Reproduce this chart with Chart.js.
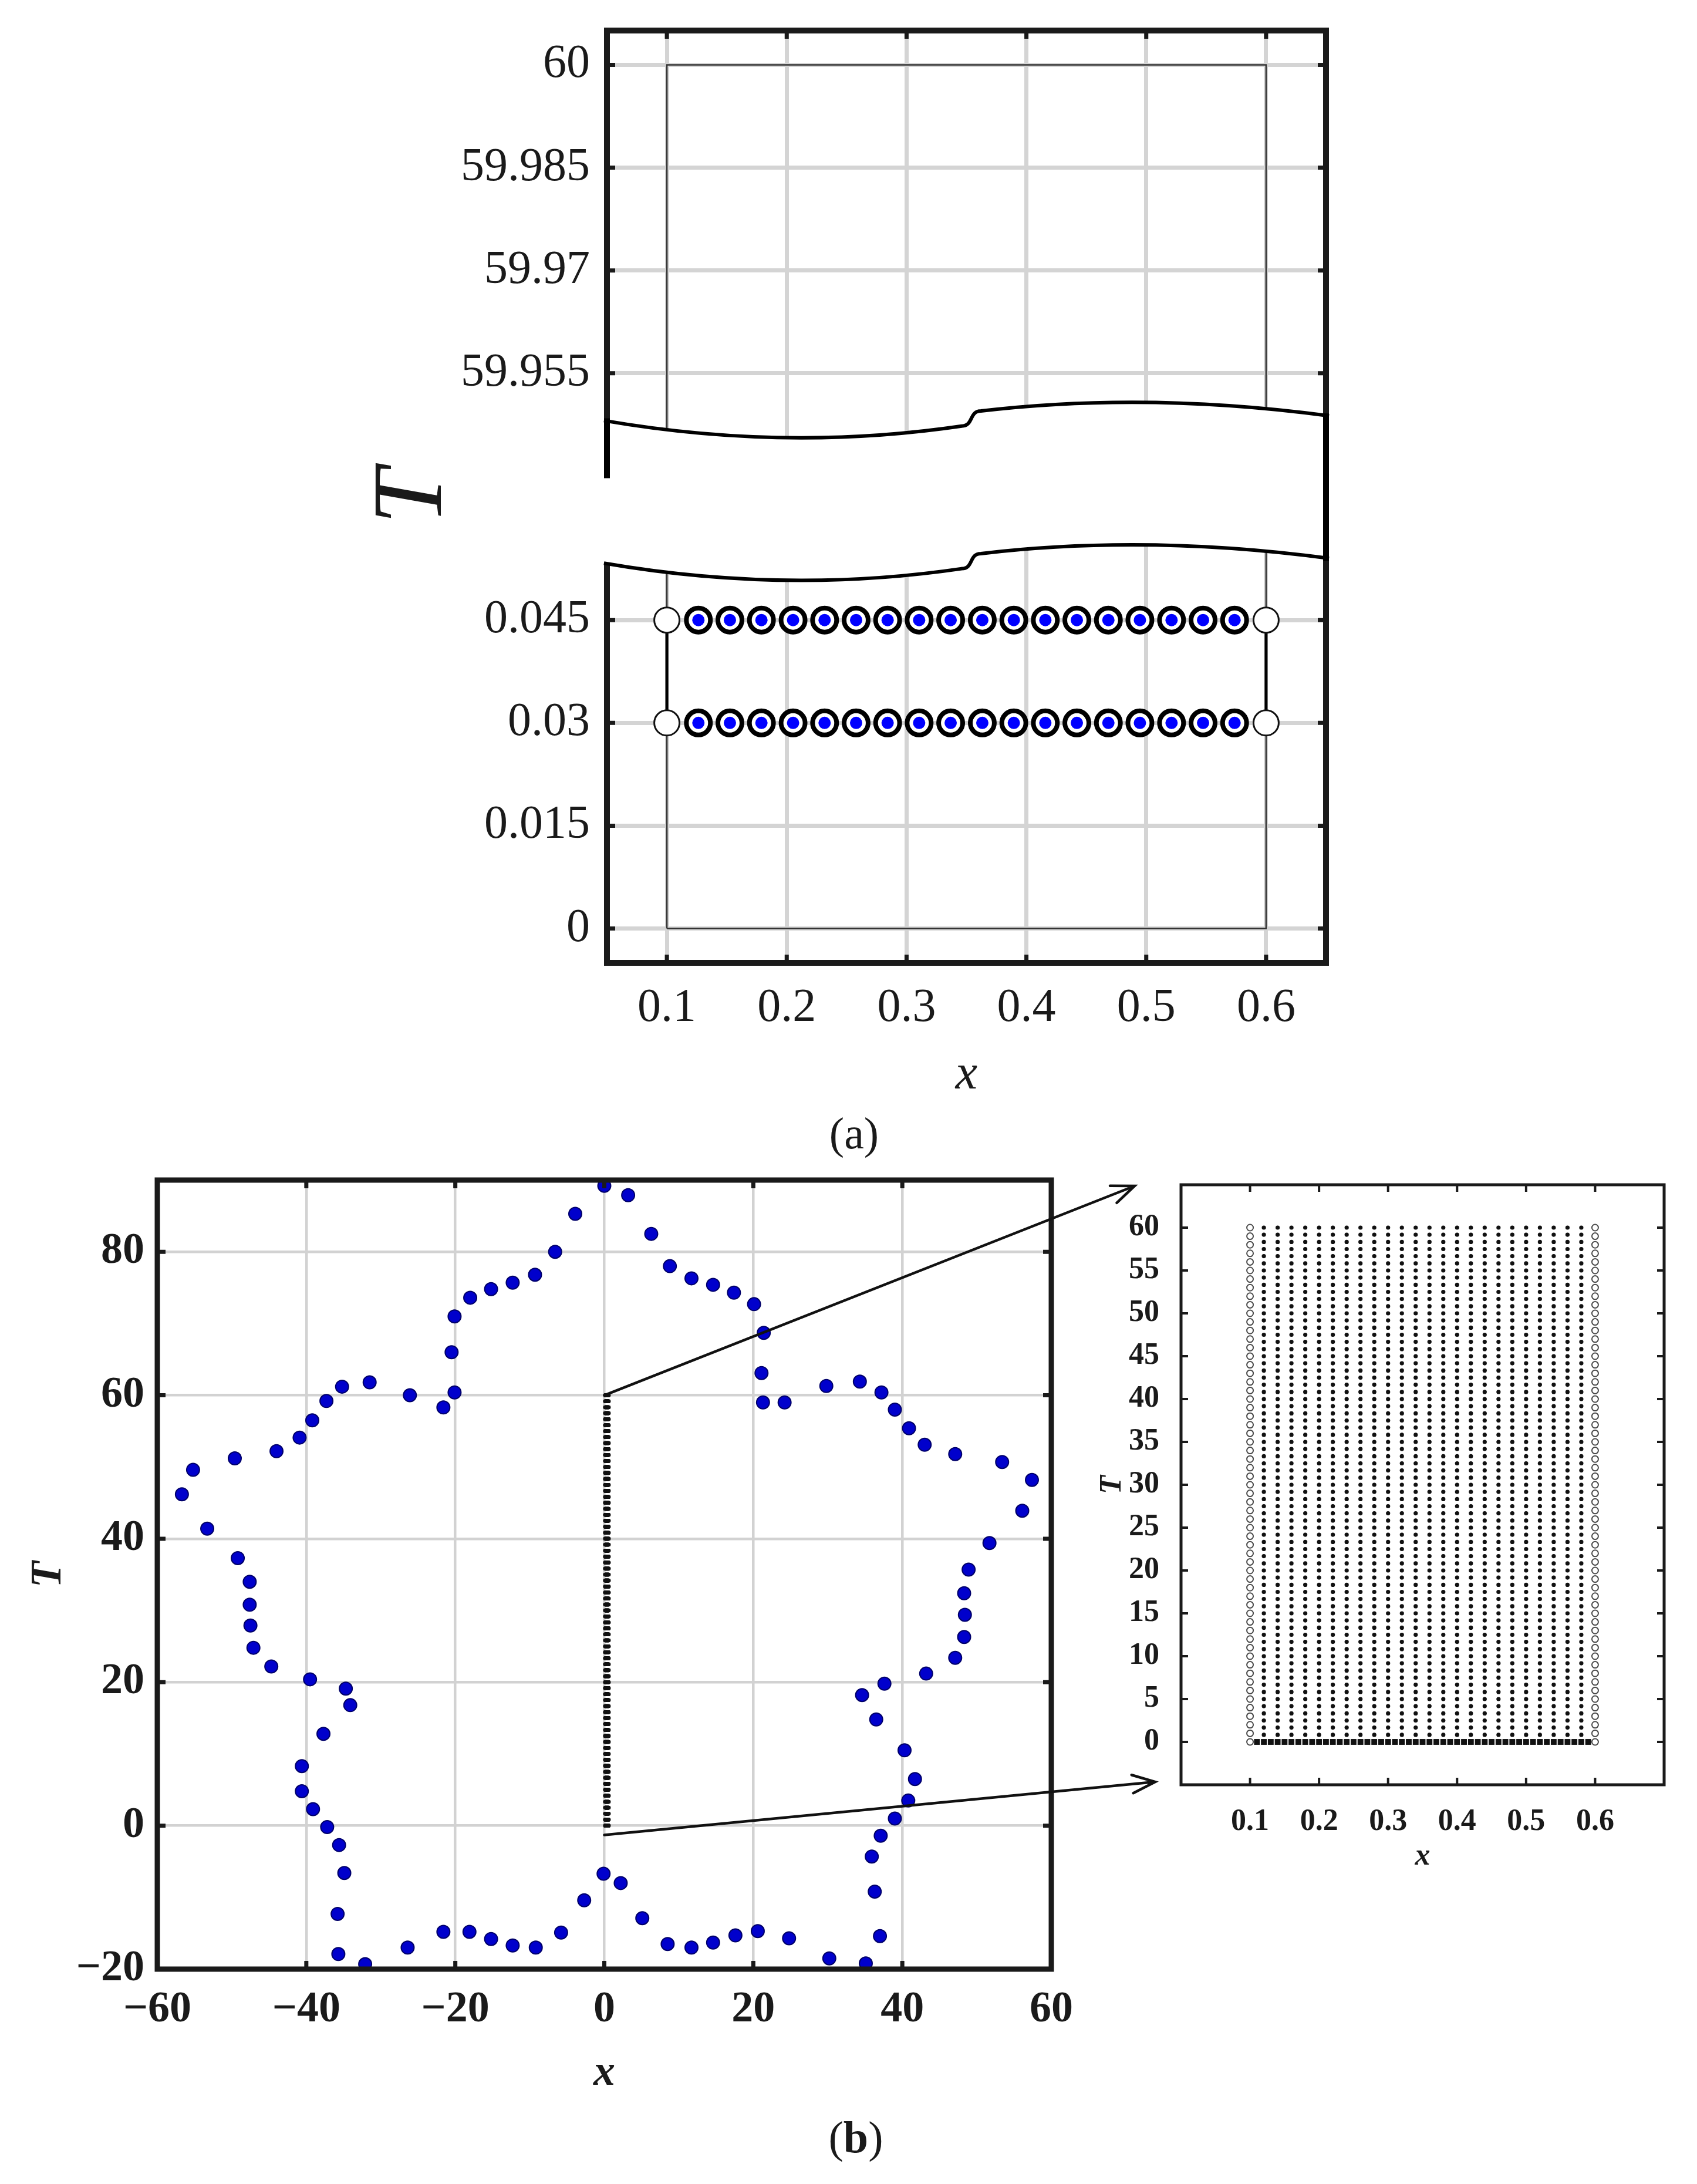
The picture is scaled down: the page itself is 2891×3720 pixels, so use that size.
<!DOCTYPE html>
<html>
<head>
<meta charset="utf-8">
<script src="https://cdn.jsdelivr.net/npm/chart.js@4.4.1/dist/chart.umd.min.js"></script>
<style>
  html, body { margin: 0; padding: 0; background: #fff; }
  body { width: 2891px; height: 3720px; position: relative; overflow: hidden; font-family: "Liberation Serif", serif; color: #1a1a1a; }
  canvas { position: absolute; }
  .cap { position: absolute; font-size: 76px; transform: translate(-50%, -50%); white-space: nowrap; }
</style>
</head>
<body>
<canvas id="chartA" width="1750" height="1882" style="left:600px;top:0px"></canvas>
<canvas id="chartB" width="1880" height="1630" style="left:0px;top:1960px"></canvas>
<canvas id="chartC" width="1031" height="1260" style="left:1860px;top:1960px"></canvas>
<canvas id="arrows" width="2891" height="3720" style="left:0px;top:0px;pointer-events:none"></canvas>
<div class="cap" style="left:1455px;top:1930px">(a)</div>
<div class="cap" style="left:1458px;top:3640px">(<b>b</b>)</div>
<script>
// ---------- panel (a): broken T axis ----------
const aTickX = [0.1, 0.2, 0.3, 0.4, 0.5, 0.6];
const aTickLow = [0, 0.015, 0.03, 0.045];
const aTickHigh = [59.955, 59.97, 59.985, 60];
const aInnerX = [0.1263, 0.1526, 0.1789, 0.2053, 0.2316, 0.2579, 0.2842, 0.3105, 0.3368,
  0.3632, 0.3895, 0.4158, 0.4421, 0.4684, 0.4947, 0.5211, 0.5474, 0.5737];
const aEdgeX = [0.1, 0.6];
const aRowT = [0.03, 0.045];
const aBoxX = [0.1, 0.6];
const aBoxT = [0, 60];

// ---------- panel (b): boundary points and mesh ----------
const starX = [0, 3.2, -3.9, -6.6, -9.3, -12.3, -15.2, -18.0, -20.1, -20.5,
  -20.1, -21.6, -26.1, -31.5, -35.2, -37.3, -39.2, -40.9, -44.0, -49.6,
  -55.2, -56.7, -53.3, -49.2, -47.6, -47.6, -47.5, -47.1, -44.7, -39.5,
  -34.7, -34.1, -37.7, -40.6, -40.6, -39.1, -37.2, -35.6, -34.9, -35.8,
  -35.7, -32.1, -26.4, -21.6, -18.1, -15.2, -12.3, -9.2, -5.8, -2.7,
  -0.1, 2.2, 5.1, 8.5, 11.7, 14.6, 17.6, 20.6, 24.8, 30.2,
  35.1, 37.0, 36.3, 35.9, 37.1, 39.0, 40.8, 41.7, 40.3, 36.5,
  34.6, 37.6, 43.2, 47.1, 48.3, 48.4, 48.3, 48.9, 51.7, 56.1,
  57.4, 53.4, 47.1, 43.0, 40.9, 39.0, 37.2, 34.3, 29.8, 24.2,
  21.3, 21.1, 21.4, 20.1, 17.4, 14.6, 11.7, 8.8, 6.3];
const starT = [89.2, 87.9, 85.3, 80.0, 76.8, 75.7, 74.8, 73.6, 71.0, 66.0,
  60.4, 58.3, 60.0, 61.8, 61.2, 59.2, 56.5, 54.1, 52.2, 51.2,
  49.6, 46.2, 41.4, 37.3, 34.0, 30.8, 27.9, 24.8, 22.2, 20.4,
  19.1, 16.8, 12.8, 8.3, 4.8, 2.3, -0.2, -2.7, -6.6, -12.3,
  -17.9, -19.3, -17.0, -14.8, -14.8, -15.8, -16.7, -17.0, -14.9, -10.4,
  -6.7, -8.0, -12.9, -16.5, -17.0, -16.3, -15.3, -14.7, -15.7, -18.5,
  -19.2, -15.4, -9.2, -4.3, -1.4, 1.0, 3.5, 6.5, 10.5, 14.8,
  18.2, 19.8, 21.2, 23.4, 26.3, 29.4, 32.4, 35.7, 39.4, 43.9,
  48.2, 50.7, 51.8, 53.1, 55.4, 58.0, 60.4, 61.9, 61.3, 59.0,
  59.0, 63.1, 68.7, 72.7, 74.3, 75.4, 76.3, 78.0, 82.5];
const bTickX = [-60, -40, -20, 0, 20, 40, 60];
const bTickT = [-20, 0, 20, 40, 60, 80];

const meshX = [0.12, 0.14, 0.16, 0.18, 0.2, 0.22, 0.24, 0.26, 0.28, 0.3, 0.32, 0.34,
  0.36, 0.38, 0.4, 0.42, 0.44, 0.46, 0.48, 0.5, 0.52, 0.54, 0.56, 0.58];
const meshT = [0, 0.83, 1.67, 2.5, 3.33, 4.17, 5, 5.83, 6.67, 7.5, 8.33, 9.17,
  10, 10.83, 11.67, 12.5, 13.33, 14.17, 15, 15.83, 16.67, 17.5, 18.33, 19.17,
  20, 20.83, 21.67, 22.5, 23.33, 24.17, 25, 25.83, 26.67, 27.5, 28.33, 29.17,
  30, 30.83, 31.67, 32.5, 33.33, 34.17, 35, 35.83, 36.67, 37.5, 38.33, 39.17,
  40, 40.83, 41.67, 42.5, 43.33, 44.17, 45, 45.83, 46.67, 47.5, 48.33, 49.17,
  50, 50.83, 51.67, 52.5, 53.33, 54.17, 55, 55.83, 56.67, 57.5, 58.33, 59.17, 60];
const edgeX = [0.1, 0.6];
const edgeT = [0, 1, 2, 3, 4, 5, 6, 7, 8, 9, 10, 11, 12, 13, 14, 15, 16, 17, 18, 19, 20,
  21, 22, 23, 24, 25, 26, 27, 28, 29, 30, 31, 32, 33, 34, 35, 36, 37, 38, 39, 40,
  41, 42, 43, 44, 45, 46, 47, 48, 49, 50, 51, 52, 53, 54, 55, 56, 57, 58, 59, 60];
const baseX = [0.11, 0.12, 0.13, 0.14, 0.15, 0.16, 0.17, 0.18, 0.19, 0.2, 0.21, 0.22,
  0.23, 0.24, 0.25, 0.26, 0.27, 0.28, 0.29, 0.3, 0.31, 0.32, 0.33, 0.34, 0.35, 0.36,
  0.37, 0.38, 0.39, 0.4, 0.41, 0.42, 0.43, 0.44, 0.45, 0.46, 0.47, 0.48, 0.49, 0.5,
  0.51, 0.52, 0.53, 0.54, 0.55, 0.56, 0.57, 0.58, 0.59];
const cTickX = [0.1, 0.2, 0.3, 0.4, 0.5, 0.6];
const cTickT = [0, 5, 10, 15, 20, 25, 30, 35, 40, 45, 50, 55, 60];

const SERIF = '"Liberation Serif", "Times New Roman", serif';
const INK = '#1a1a1a';

// broken axis: the upper block (59.955..60) sits above the lower one with a gap
const BREAK_GAP = 0.036;
function brk(t) {
  return t < 30 ? t : t - aTickHigh[0] + aTickLow[aTickLow.length - 1] + BREAK_GAP;
}

function grid(xs, ts, fy) {
  const pts = [];
  xs.forEach(x => ts.forEach(t => pts.push({ x: x, y: fy ? fy(t) : t })));
  return pts;
}
function pairs(xs, ts) {
  return xs.map((x, i) => ({ x: x, y: ts[i] }));
}
function fixedTicks(values) {
  return scale => { scale.ticks = values.map(v => ({ value: v })); };
}
// fixed axis box size, no extra room for overhanging labels
function fitTo(prop, size) {
  return s => {
    s[prop] = size;
    s.paddingTop = 0; s.paddingBottom = 0; s.paddingLeft = 0; s.paddingRight = 0;
  };
}
function minus(v) {
  return v < 0 ? '\u2212' + Math.abs(v) : String(v);
}

// frame box + inward tick marks, drawn over the data
function framePlugin(o) {
  return {
    id: 'frameBox',
    afterDatasetsDraw(chart) {
      const { ctx, chartArea: a, scales } = chart;
      ctx.save();
      ctx.strokeStyle = INK;
      ctx.lineWidth = o.tickW;
      ctx.beginPath();
      scales.x.ticks.forEach(t => {
        const px = scales.x.getPixelForValue(t.value);
        ctx.moveTo(px, a.bottom); ctx.lineTo(px, a.bottom - o.tickL);
        ctx.moveTo(px, a.top); ctx.lineTo(px, a.top + o.tickL);
      });
      scales.y.ticks.forEach(t => {
        const py = scales.y.getPixelForValue(t.value);
        ctx.moveTo(a.left, py); ctx.lineTo(a.left + o.tickL, py);
        ctx.moveTo(a.right, py); ctx.lineTo(a.right - o.tickL, py);
      });
      ctx.stroke();
      ctx.lineWidth = o.frameW;
      ctx.strokeRect(a.left, a.top, a.right - a.left, a.bottom - a.top);
      ctx.restore();
      if (o.after) o.after(chart);
    }
  };
}

// white wavy band hiding the jump of the T axis
function drawBreak(chart) {
  const { ctx, chartArea: a, scales: { x, y } } = chart;
  const X = v => x.getPixelForValue(v);
  const Y = v => y.getPixelForValue(v);
  const drop = 0.0208;
  const start = [0.0475, 0.0741];
  const segs = [
    [[0.15, 0.0710], [0.2487, 0.0708], [0.346, 0.0733]],
    [[0.356, 0.0733], [0.352, 0.0755], [0.362, 0.0755]],
    [[0.454, 0.0774], [0.55, 0.0772], [0.6525, 0.0748]]
  ];
  const fwd = d => {
    ctx.moveTo(X(start[0]), Y(start[1] - d));
    segs.forEach(s => ctx.bezierCurveTo(X(s[0][0]), Y(s[0][1] - d), X(s[1][0]), Y(s[1][1] - d), X(s[2][0]), Y(s[2][1] - d)));
  };
  const back = d => {
    const last = segs[segs.length - 1][2];
    ctx.lineTo(X(last[0]), Y(last[1] - d));
    for (let i = segs.length - 1; i >= 0; i--) {
      const s = segs[i];
      const to = i > 0 ? segs[i - 1][2] : start;
      ctx.bezierCurveTo(X(s[1][0]), Y(s[1][1] - d), X(s[0][0]), Y(s[0][1] - d), X(to[0]), Y(to[1] - d));
    }
  };
  ctx.save();
  ctx.fillStyle = '#fff';
  ctx.beginPath();
  fwd(0);
  back(drop);
  ctx.closePath();
  ctx.fill();
  ctx.strokeStyle = '#000';
  ctx.lineWidth = 6;
  ctx.beginPath(); fwd(0); ctx.stroke();
  ctx.beginPath(); fwd(drop); ctx.stroke();
  ctx.lineWidth = 10;
  ctx.beginPath();
  ctx.moveTo(a.right, Y(0.0748) - 4); ctx.lineTo(a.right, Y(0.0748 - drop) + 4);
  ctx.moveTo(a.left, Y(0.0741) - 4); ctx.lineTo(a.left, Y(0.0657));
  ctx.stroke();
  ctx.restore();
}

const base = {
  responsive: false,
  animation: false,
  devicePixelRatio: 1,
  events: [],
  plugins: { legend: { display: false }, tooltip: { enabled: false } }
};

// ---------- chart (a) ----------
const aAllT = aTickLow.concat(aTickHigh);
const boxPts = [
  { x: aBoxX[0], y: brk(aBoxT[0]) }, { x: aBoxX[1], y: brk(aBoxT[0]) },
  { x: aBoxX[1], y: brk(aBoxT[1]) }, { x: aBoxX[0], y: brk(aBoxT[1]) },
  { x: aBoxX[0], y: brk(aBoxT[0]) }
];
const chartA = new Chart(document.getElementById('chartA'), {
  type: 'scatter',
  data: {
    datasets: [
      { data: grid(aEdgeX, aRowT, brk), order: 1, pointRadius: 21.5, backgroundColor: '#fff', borderColor: '#111', borderWidth: 3 },
      { data: grid(aInnerX, aRowT, brk), order: 2, pointRadius: 10.5, backgroundColor: '#0000ff', borderColor: '#0000ff', borderWidth: 0 },
      { data: grid(aInnerX, aRowT, brk), order: 3, pointRadius: 20.5, backgroundColor: '#fff', borderColor: '#000', borderWidth: 8 },
      ...aEdgeX.map(x => ({ data: aRowT.map(t => ({ x: x, y: brk(t) })), order: 4, showLine: true, pointRadius: 0, borderColor: '#000', borderWidth: 5 })),
      { data: boxPts, order: 5, showLine: true, pointRadius: 0, borderColor: '#333', borderWidth: 2.5 }
    ]
  },
  options: Object.assign({}, base, {
    layout: { padding: { left: 0, top: 52, right: 91, bottom: 0 } },
    scales: {
      x: {
        type: 'linear', min: 0.05, max: 0.65,
        afterBuildTicks: fixedTicks(aTickX),
        afterFit: fitTo('height', 242),
        grid: { color: '#d4d4d4', lineWidth: 7, drawTicks: false },
        border: { display: false },
        ticks: { padding: 30, color: INK, font: { family: SERIF, size: 80 }, callback: v => String(v) },
        title: { display: true, text: 'x', color: INK, padding: { top: 0, bottom: 0 }, font: { family: SERIF, size: 84, style: 'italic' } }
      },
      y: {
        type: 'linear', min: -0.005, max: 0.131,
        afterBuildTicks: fixedTicks(aAllT.map(brk)),
        afterFit: fitTo('width', 434),
        grid: { color: '#d4d4d4', lineWidth: 7, drawTicks: false },
        border: { display: false },
        ticks: { padding: 29, color: INK, font: { family: SERIF, size: 80 }, callback: (v, i) => String(aAllT[i]) },
        title: { display: true, text: 'T', color: INK, padding: { top: 4, bottom: 0 }, font: { family: SERIF, size: 170, style: 'italic' } }
      }
    }
  }),
  plugins: [framePlugin({ tickL: 14, tickW: 7, frameW: 10, after: drawBreak })]
});

// ---------- chart (b) left ----------
const chartB = new Chart(document.getElementById('chartB'), {
  type: 'scatter',
  data: {
    datasets: [
      { data: pairs(starX, starT), order: 1, pointRadius: 11, backgroundColor: '#0000cc', borderColor: '#00006a', borderWidth: 2 },
      { data: grid(meshX.concat(edgeX), meshT), order: 2, pointRadius: 3.3, backgroundColor: '#111', borderColor: '#111', borderWidth: 0 }
    ]
  },
  options: Object.assign({}, base, {
    layout: { padding: { left: 0, top: 50, right: 89, bottom: 0 } },
    scales: {
      x: {
        type: 'linear', min: -60, max: 60,
        afterBuildTicks: fixedTicks(bTickX),
        afterFit: fitTo('height', 236),
        grid: { color: '#d2d2d2', lineWidth: 4.5, drawTicks: false },
        border: { display: false },
        ticks: { padding: 25, color: INK, font: { family: SERIF, size: 74, weight: 'bold' }, callback: v => minus(v) },
        title: { display: true, text: 'x', color: INK, padding: { top: 0, bottom: 14 }, font: { family: SERIF, size: 74, weight: 'bold', style: 'italic' } }
      },
      y: {
        type: 'linear', min: -20, max: 90,
        afterBuildTicks: fixedTicks(bTickT),
        afterFit: fitTo('width', 268),
        grid: { color: '#d2d2d2', lineWidth: 4.5, drawTicks: false },
        border: { display: false },
        ticks: { padding: 22, color: INK, font: { family: SERIF, size: 74, weight: 'bold' }, callback: v => minus(v) },
        title: { display: true, text: 'T', color: INK, padding: { top: 39, bottom: 0 }, font: { family: SERIF, size: 74, weight: 'bold', style: 'italic' } }
      }
    }
  }),
  plugins: [framePlugin({ tickL: 14, tickW: 7, frameW: 9 })]
});

// ---------- chart (b) right: zoomed mesh ----------
const chartC = new Chart(document.getElementById('chartC'), {
  type: 'scatter',
  data: {
    datasets: [
      { data: grid(edgeX, edgeT), order: 1, pointRadius: 5.5, backgroundColor: '#fff', borderColor: '#4a4a4a', borderWidth: 2 },
      { data: grid(baseX, [0]), order: 2, pointStyle: 'rect', pointRadius: 7, backgroundColor: '#111', borderWidth: 0 },
      { data: grid(meshX, meshT), order: 3, pointRadius: 3.6, backgroundColor: '#111', borderWidth: 0 }
    ]
  },
  options: Object.assign({}, base, {
    layout: { padding: { left: 0, top: 58, right: 56, bottom: 0 } },
    scales: {
      x: {
        type: 'linear', min: 0, max: 0.7,
        afterBuildTicks: fixedTicks(cTickX),
        afterFit: fitTo('height', 180),
        grid: { display: false },
        border: { display: false },
        ticks: { padding: 24, color: INK, font: { family: SERIF, size: 52, weight: 'bold' }, callback: v => String(v) },
        title: { display: true, text: 'x', color: INK, padding: { top: 0, bottom: 26 }, font: { family: SERIF, size: 52, weight: 'bold', style: 'italic' } }
      },
      y: {
        type: 'linear', min: -5, max: 65,
        afterBuildTicks: fixedTicks(cTickT),
        afterFit: fitTo('width', 152),
        grid: { display: false },
        border: { display: false },
        ticks: { padding: 29, color: INK, font: { family: SERIF, size: 52, weight: 'bold' }, callback: v => String(v) },
        title: { display: true, text: 'T', color: INK, padding: { top: 4, bottom: 0 }, font: { family: SERIF, size: 52, weight: 'bold', style: 'italic' } }
      }
    }
  }),
  plugins: [framePlugin({ tickL: 12, tickW: 4, frameW: 5 })]
});

// ---------- zoom arrows from the mesh column to the inset ----------
(function drawArrows() {
  const ctx = document.getElementById('arrows').getContext('2d');
  const bx = chartB.scales.x, by = chartB.scales.y;
  const offB = { x: 0, y: 1960 }, offC = { x: 1860, y: 1960 };
  const area = chartC.chartArea;
  const lines = [
    [bx.getPixelForValue(0) + offB.x, by.getPixelForValue(meshT[meshT.length - 1]) + offB.y,
     area.left + offC.x - 79, area.top + offC.y + 2],
    [bx.getPixelForValue(0) + offB.x, by.getPixelForValue(-1.3) + offB.y,
     area.left + offC.x - 44, area.bottom + offC.y - 5]
  ];
  ctx.strokeStyle = '#111';
  ctx.lineWidth = 4.5;
  ctx.lineCap = 'round';
  lines.forEach(([x0, y0, x1, y1]) => {
    const ang = Math.atan2(y1 - y0, x1 - x0);
    const L = 42, h = 0.38;
    ctx.beginPath();
    ctx.moveTo(x0, y0); ctx.lineTo(x1, y1);
    ctx.moveTo(x1 - L * Math.cos(ang - h), y1 - L * Math.sin(ang - h));
    ctx.lineTo(x1, y1);
    ctx.lineTo(x1 - L * Math.cos(ang + h), y1 - L * Math.sin(ang + h));
    ctx.stroke();
  });
})();
</script>
</body>
</html>
